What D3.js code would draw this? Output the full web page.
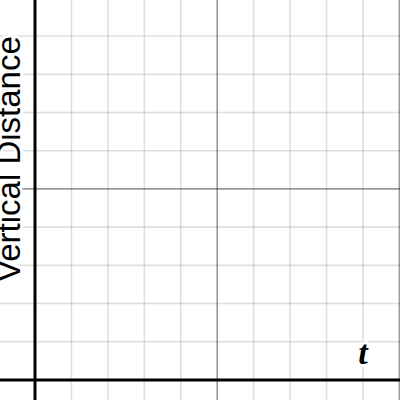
<!DOCTYPE html>
<html>
<head>
<meta charset="utf-8">
<script src="https://cdn.jsdelivr.net/npm/d3@7"></script>
<style>
  html, body { margin: 0; padding: 0; background: #fff; }
  svg { display: block; }
</style>
</head>
<body>
<script>
// Data
const xTicks = [-1, 0, 1, 2, 3, 4, 5, 6, 7, 8, 9, 10];
const yTicks = [-1, 0, 1, 2, 3, 4, 5, 6, 7, 8, 9, 10];
const majorStep = 5;
const xLabel = "t";
const yLabel = "Vertical Distance";

const W = 400, H = 400;
const svg = d3.select("body").append("svg").attr("width", W).attr("height", H);

const x = d3.scaleLinear().domain([0, 10]).range([35, 399.4]);
const y = d3.scaleLinear().domain([0, 10]).range([380, -2.2]);

const isMajor = v => v !== 0 && v % majorStep === 0;

// minor grid
const g = svg.append("g");
g.selectAll("line.vx").data(xTicks.filter(v => v !== 0 && !isMajor(v))).join("line")
  .attr("x1", d => x(d)).attr("x2", d => x(d)).attr("y1", 0).attr("y2", H)
  .attr("stroke", "#000").attr("stroke-opacity", 0.13).attr("stroke-width", 1.6);
g.selectAll("line.hy").data(yTicks.filter(v => v !== 0 && !isMajor(v))).join("line")
  .attr("y1", d => y(d)).attr("y2", d => y(d)).attr("x1", 0).attr("x2", W)
  .attr("stroke", "#000").attr("stroke-opacity", 0.13).attr("stroke-width", 1.6);

// major grid
const gm = svg.append("g");
gm.selectAll("line").data(xTicks.filter(isMajor)).join("line")
  .attr("x1", d => x(d)).attr("x2", d => x(d)).attr("y1", 0).attr("y2", H)
  .attr("stroke", "#000").attr("stroke-opacity", 0.4).attr("stroke-width", 1.6);
gm.append("g").selectAll("line").data(yTicks.filter(isMajor)).join("line")
  .attr("y1", d => y(d)).attr("y2", d => y(d)).attr("x1", 0).attr("x2", W)
  .attr("stroke", "#000").attr("stroke-opacity", 0.4).attr("stroke-width", 1.6);

// axes
svg.append("line").attr("x1", 0).attr("x2", W).attr("y1", y(0)).attr("y2", y(0))
  .attr("stroke", "#000").attr("stroke-width", 3);
svg.append("line").attr("x1", x(0)).attr("x2", x(0)).attr("y1", 0).attr("y2", H)
  .attr("stroke", "#000").attr("stroke-width", 3);

// labels
svg.append("text")
  .attr("transform", `translate(19.5,282) rotate(-90)`)
  .attr("text-anchor", "start")
  .attr("font-family", "Liberation Sans, Arial, sans-serif")
  .attr("font-size", 33)
  .attr("fill", "#000")
  .attr("stroke", "#fff").attr("stroke-width", 6).attr("paint-order", "stroke")
  .attr("stroke-linejoin", "round")
  .text(yLabel);

svg.append("text")
  .attr("x", 363).attr("y", 364)
  .attr("text-anchor", "middle")
  .attr("font-family", "Liberation Serif, Times New Roman, serif")
  .attr("font-style", "italic")
  .attr("font-weight", "bold")
  .attr("font-size", 34)
  .attr("fill", "#000")
  .attr("stroke", "#fff").attr("stroke-width", 6).attr("paint-order", "stroke")
  .attr("stroke-linejoin", "round")
  .text(xLabel);
</script>
</body>
</html>
